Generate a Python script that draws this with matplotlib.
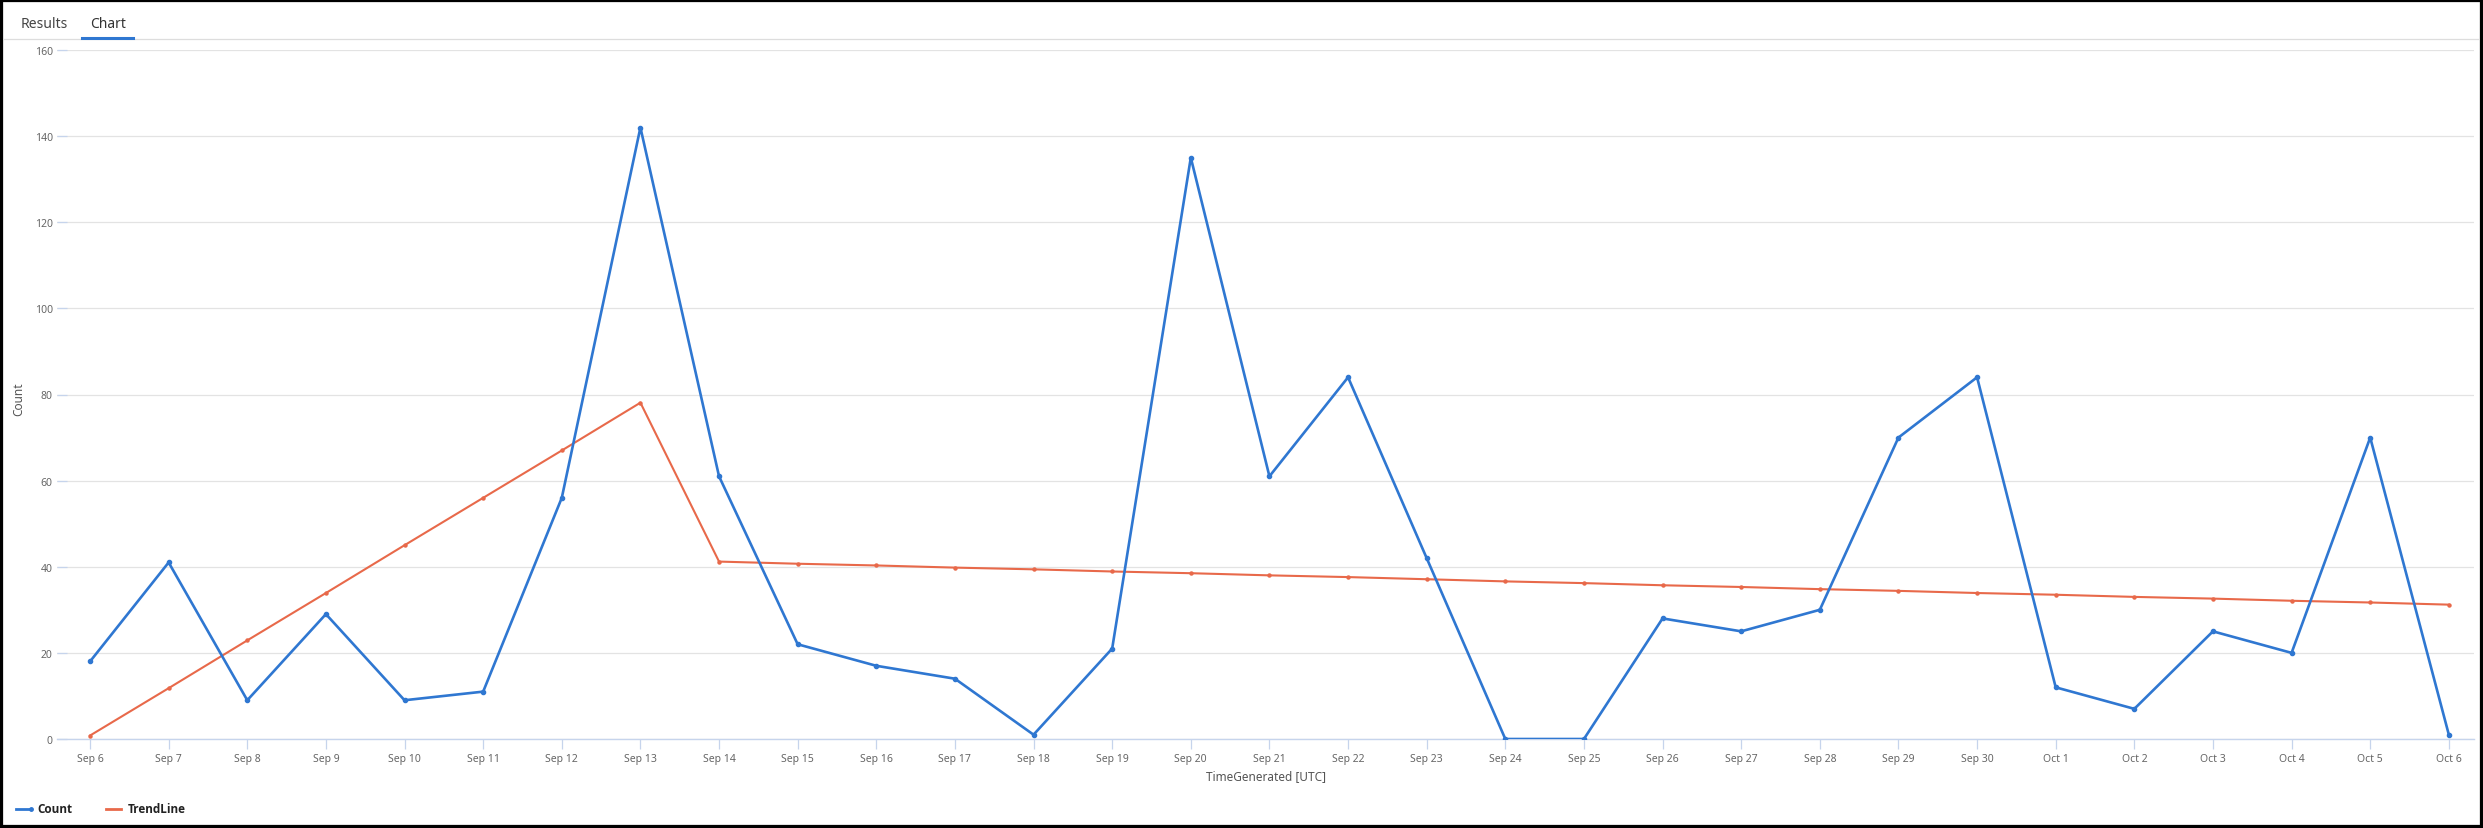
import matplotlib
matplotlib.use("Agg")
import matplotlib.pyplot as plt
from matplotlib.lines import Line2D
from matplotlib.patches import Rectangle

plt.rcParams["font.family"] = ["Noto Sans", "DejaVu Sans"]

# Daily counts
days = ["Sep 6", "Sep 7", "Sep 8", "Sep 9", "Sep 10", "Sep 11", "Sep 12", "Sep 13",
        "Sep 14", "Sep 15", "Sep 16", "Sep 17", "Sep 18", "Sep 19", "Sep 20", "Sep 21",
        "Sep 22", "Sep 23", "Sep 24", "Sep 25", "Sep 26", "Sep 27", "Sep 28", "Sep 29",
        "Sep 30", "Oct 1", "Oct 2", "Oct 3", "Oct 4", "Oct 5", "Oct 6"]
count = [18, 41, 9, 29, 9, 11, 56, 142, 61, 22, 17, 14, 1, 21, 135, 61,
         84, 42, 0, 0, 28, 25, 30, 70, 84, 12, 7, 25, 20, 70, 1]
trendline = [0.8, 11.8, 22.9, 33.9, 45.0, 56.0, 67.0, 78.1,
             41.2, 40.7, 40.3, 39.8, 39.4, 38.9, 38.5, 38.0,
             37.6, 37.1, 36.6, 36.2, 35.7, 35.3, 34.8, 34.4,
             33.9, 33.5, 33.0, 32.6, 32.1, 31.7, 31.2]
y_ticks = [0, 20, 40, 60, 80, 100, 120, 140, 160]

blue = "#2f77d1"
orange = "#e8694a"
axis_blue = "#c6d4ec"
grid_grey = "#e3e3e3"
tick_grey = "#666666"

W, H = 2483, 829
fig = plt.figure(figsize=(W / 100, H / 100), dpi=100)
fig.patch.set_facecolor("white")

ax = fig.add_axes([57 / W, 1 - 740 / H, (2474 - 57) / W, (740 - 51) / H])
x = list(range(len(days)))
ax.plot(x, trendline, color=orange, lw=1.5, marker="o", ms=2.2, zorder=3)
ax.plot(x, count, color=blue, lw=1.9, marker="o", ms=3, zorder=4)

ax.set_xlim(-0.42, len(days) - 1 + 0.32)
ax.set_ylim(0, 160)
ax.set_yticks(y_ticks)
ax.set_xticks(x)
ax.set_xticklabels(days)

for s in ["top", "right", "left"]:
    ax.spines[s].set_visible(False)
ax.spines["bottom"].set_color(axis_blue)
ax.spines["bottom"].set_linewidth(1.0)
ax.grid(axis="y", color=grid_grey, lw=0.9)
ax.set_axisbelow(True)
ax.tick_params(axis="x", colors=axis_blue, length=7, width=0.9, pad=3,
               labelcolor=tick_grey, labelsize=7.5)
ax.tick_params(axis="y", colors=axis_blue, direction="in", length=7, width=0.9,
               pad=3, labelcolor=tick_grey, labelsize=7.5)

ax.set_xlabel("TimeGenerated [UTC]", fontsize=8.5, color="#555555", labelpad=4)
fig.text(19 / W, 1 - 399 / H, "Count", fontsize=8.5, color="#555555",
         rotation=90, ha="center", va="center")

# tab strip
fig.text(21 / W, 1 - 25 / H, "Results", fontsize=10, color="#444444", va="center")
fig.text(90 / W, 1 - 25 / H, "Chart", fontsize=10, color="#333333", va="center")
fig.add_artist(Line2D([4 / W, 2478 / W], [1 - 40 / H, 1 - 40 / H],
                      color="#dddddd", lw=0.9))
fig.add_artist(Line2D([82 / W, 133 / W], [1 - 38.5 / H, 1 - 38.5 / H],
                      color=blue, lw=2.2))

# legend
ly = 1 - 810 / H
fig.add_artist(Line2D([16 / W, 31 / W], [ly, ly], color=blue, lw=2,
                      marker="o", ms=2.5, markevery=[1]))
fig.text(37 / W, ly, "Count", fontsize=8.5, fontweight="bold", color="#222222",
         va="center", family=["Open Sans", "DejaVu Sans"])
fig.add_artist(Line2D([106 / W, 121 / W], [ly, ly], color=orange, lw=2))
fig.text(128 / W, ly, "TrendLine", fontsize=8.5, fontweight="bold", color="#222222",
         va="center", family=["Open Sans", "DejaVu Sans"])

# outer frame
fig.add_artist(Rectangle((0, 0), 1, 1, transform=fig.transFigure, fill=False,
                         edgecolor="black", lw=4.5))

fig.savefig("out.png", dpi=100)
